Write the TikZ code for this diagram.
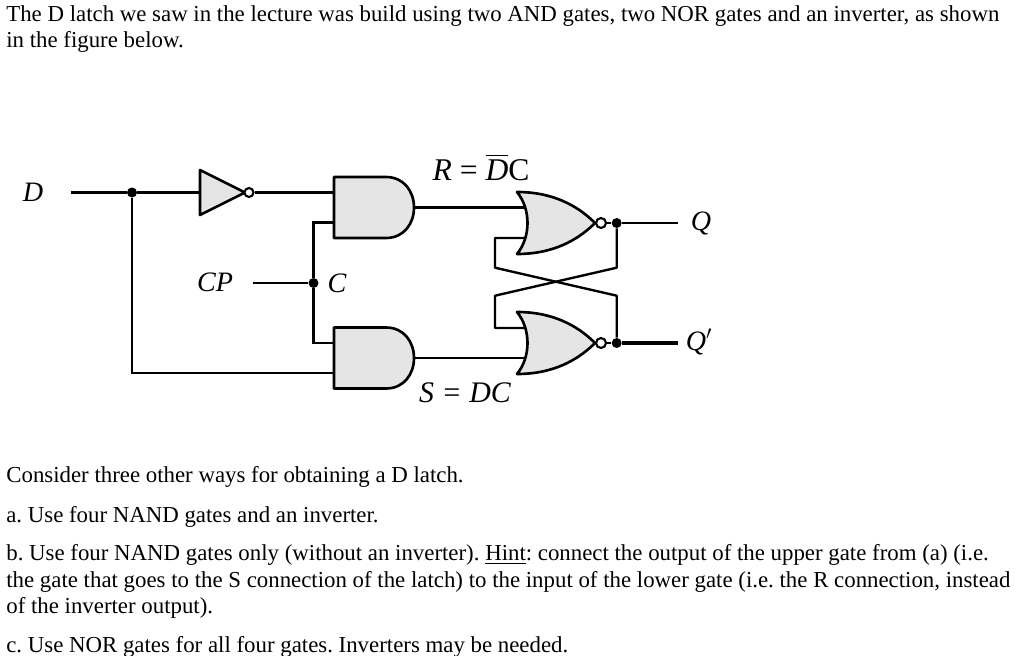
\documentclass[tikz,border=0pt]{standalone}
\usepackage{fontspec}
\setmainfont{Liberation Serif}
\usepackage{amsmath}
\usepackage{tikz}
\definecolor{gategray}{gray}{0.9}
\tikzset{
  wire/.style={line width=1.35pt},
  gatebody/.style={draw, fill=gategray, line width=1.5pt, line join=round},
  bubble/.style={circle, draw, fill=white, line width=1.2pt, inner sep=0pt, minimum size=0.18cm},
  joint/.style={circle, fill=black, inner sep=0pt, minimum size=0.2cm},
  bodytext/.style={anchor=base west, inner sep=0pt, font=\fontsize{13pt}{15pt}\selectfont\frenchspacing},
  signal/.style={inner sep=0pt, font=\fontsize{16pt}{19pt}\selectfont\itshape},
  pics/andgate/.style={code={
    \draw [gatebody] (0,-30.5) -- (52,-30.5) .. controls (70,-30.5) and (80,-16) .. (80,0)
      .. controls (80,16) and (70,30.5) .. (52,30.5) -- (0,30.5) -- cycle;
    \coordinate (-a) at (0,-15);
    \coordinate (-b) at (0,15);
    \coordinate (-o) at (80,0);
  }},
  pics/norgate/.style={code={
    \draw [gatebody] (0,-31) .. controls (35,-31) and (60,-18) .. (78,0)
      .. controls (60,18) and (35,31) .. (0,31) .. controls (14,14) and (14,-14) .. (0,-31) -- cycle;
    \node [bubble, minimum size=0.2cm] (-n) at (84,0) {};
    \coordinate (-a) at (8,-15);
    \coordinate (-b) at (8,15);
  }},
}
\begin{document}
\begin{tikzpicture}[x=0.02cm, y=-0.02cm]
  \useasboundingbox (0,0) rectangle (1015,656);
  % text above the figure
  \node [bodytext] (introa) at (6,21.5) {The D latch we saw in the lecture was build using two AND gates, two NOR gates and an inverter, as shown};
  \node [bodytext] (introb) at (6,47.5) {in the figure below.};
  % gates
  \draw [gatebody] (200,170) -- (245,192.5) -- (200,215) -- cycle;
  \coordinate (invin) at (200,192.5);
  \node [bubble] (invout) at (249,192.5) {};
  \pic (andup) at (334,207.5) {andgate};
  \pic (andlow) at (334,358) {andgate};
  \pic (norup) at (517,223) {norgate};
  \pic (norlow) at (517,343) {norgate};
  % inputs
  \node [signal] (dlabel) at (33,192) {D};
  \node [signal] (cplabel) at (215,282) {CP};
  \node [signal] (clabel) at (337,283) {C};
  \coordinate (dstart) at (71,192.5);
  \coordinate (cpstart) at (253,283);
  \node [joint] (djoint) at (132,192.5) {};
  \node [joint] (cjoint) at (313.5,283) {};
  \draw [wire] (dstart) -- (djoint) -- (invin);
  \draw [wire] (invout) -- (andup-a);
  \draw [wire] (djoint) |- (andlow-b);
  \draw [wire] (cpstart) -- (cjoint);
  \draw [wire] (cjoint) |- (andup-b);
  \draw [wire] (cjoint) |- (andlow-a);
  % latch
  \draw [wire] (andup-o) -- (andup-o -| norup-a);
  \draw [wire] (andlow-o) -- (andlow-o -| norlow-b);
  \node [joint] (qjoint) at (616.7,223) {};
  \node [joint] (qbjoint) at (616.7,343) {};
  \coordinate (qend) at (678,223);
  \coordinate (qbend) at (678,343);
  \coordinate (crossa) at (495,267.7);
  \coordinate (crossb) at (616.7,295.7);
  \coordinate (crossc) at (495,295.7);
  \coordinate (crossd) at (616.7,267.7);
  \draw [wire] (norup-n) -- (qjoint) -- (qend);
  \draw [wire] (norlow-n) -- (qbjoint);
  \draw [wire, line width=1.8pt] (qbjoint) -- (qbend);
  \draw [wire, line join=round] (norup-b) -| (crossa) -- (crossb) -- (qbjoint);
  \draw [wire, line join=round] (qjoint) -- (crossd) -- (crossc) |- (norlow-a);
  % labels
  \node [signal] (qlabel) at (701,223) {Q};
  \node [signal] (qblabel) at (699,342) {Q$'$};
  \node [signal, font=\fontsize{18pt}{21pt}\selectfont\itshape] (rlabel) at (481,167) {R \upshape{=} $\overline{\textit{D}}$C};
  \node [signal, font=\fontsize{17pt}{20pt}\selectfont\itshape] (slabel) at (465,393) {S = DC};
  % text below the figure
  \node [bodytext] (linea) at (6,482.5) {Consider three other ways for obtaining a D latch.};
  \node [bodytext] (lineb) at (6,522.5) {a. Use four NAND gates and an inverter.};
  \node [bodytext] (linec) at (6,560.5) {b. Use four NAND gates only (without an inverter). \underline{Hint}: connect the output of the upper gate from (a) (i.e.};
  \node [bodytext] (lined) at (6,587.5) {the gate that goes to the S connection of the latch) to the input of the lower gate (i.e. the R connection, instead};
  \node [bodytext] (linee) at (6,613.5) {of the inverter output).};
  \node [bodytext] (linef) at (6,652.5) {c. Use NOR gates for all four gates. Inverters may be needed.};
\end{tikzpicture}
\end{document}
